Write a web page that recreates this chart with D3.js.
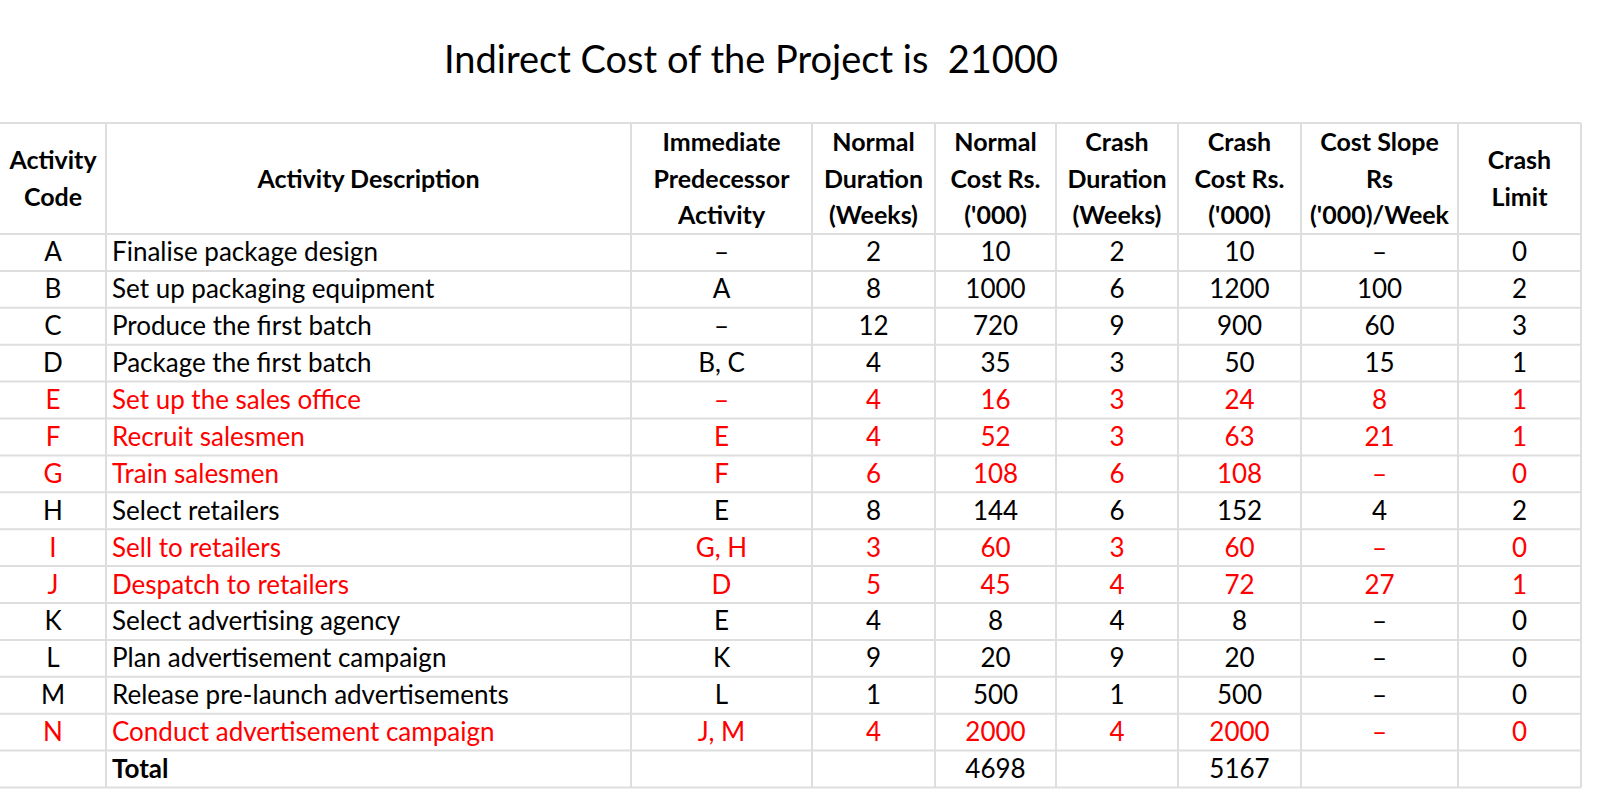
<!DOCTYPE html><html><head><meta charset="utf-8"><script src="https://cdn.jsdelivr.net/npm/d3@7"></script>
<style>body{margin:0;background:#fff}svg{display:block}text{white-space:pre}</style></head><body><svg id="c" width="1597" height="811"></svg><script>
const title="Indirect Cost of the Project is  21000";
const headers=[["Activity","Code"],["Activity Description"],["Immediate","Predecessor","Activity"],["Normal","Duration","(Weeks)"],["Normal","Cost Rs.","('000)"],["Crash","Duration","(Weeks)"],["Crash","Cost Rs.","('000)"],["Cost Slope","Rs","('000)/Week"],["Crash","Limit"]];
const codes=["A","B","C","D","E","F","G","H","I","J","K","L","M","N"];
const descs=["Finalise package design","Set up packaging equipment","Produce the first batch","Package the first batch","Set up the sales office","Recruit salesmen","Train salesmen","Select retailers","Sell to retailers","Despatch to retailers","Select advertising agency","Plan advertisement campaign","Release pre-launch advertisements","Conduct advertisement campaign"];
const preds=["–","A","–","B, C","–","E","F","E","G, H","D","E","K","L","J, M"];
const normalDur=[2,8,12,4,4,4,6,8,3,5,4,9,1,4];
const normalCost=[10,1000,720,35,16,52,108,144,60,45,8,20,500,2000];
const crashDur=[2,6,9,3,3,3,6,6,3,4,4,9,1,4];
const crashCost=[10,1200,900,50,24,63,108,152,60,72,8,20,500,2000];
const slope=["–",100,60,15,8,21,"–",4,"–",27,"–","–","–","–"];
const crashLimit=[0,2,3,1,1,1,0,2,0,1,0,0,0,0];
const critical=["E","F","G","I","J","N"];
const totalRow=["","Total","","",4698,"",5167,"",""];

const svg=d3.select("#c");
const colEdges=[0,106,631,812,935,1056,1178,1301,1458,1581];
const headTop=123, headBot=234, rowH=36.9;
const nRows=codes.length+1;
const y=d3.scaleLinear().domain([0,nRows]).range([headBot,headBot+rowH*nRows]);
const F="Lato, 'Open Sans', sans-serif";
svg.append("text").attr("x",751).attr("y",73).attr("text-anchor","middle").attr("font-family",F).attr("font-size",38).attr("fill","#000").text(title);
const g=svg.append("g");
const gc="#dedede";
[headTop,...d3.range(nRows+1).map(i=>y(i))].forEach(v=>g.append("line").attr("x1",0).attr("x2",1581).attr("y1",v).attr("y2",v).attr("stroke",gc).attr("stroke-width",2));
colEdges.slice(1).forEach(v=>g.append("line").attr("x1",v).attr("x2",v).attr("y1",headTop).attr("y2",y(nRows)).attr("stroke",gc).attr("stroke-width",2));
const mid=i=>(colEdges[i]+colEdges[i+1])/2;
headers.forEach((h,i)=>{
  const cy=(headTop+headBot)/2, lh=36.5;
  h.forEach((t,j)=>svg.append("text").attr("x",mid(i)).attr("y",cy+(j-(h.length-1)/2)*lh+9).attr("text-anchor","middle")
   .attr("font-family",F).attr("font-weight","bold").attr("font-size",25).attr("fill","#000").text(t));
});
const rows=codes.map((c,i)=>[c,descs[i],preds[i],normalDur[i],normalCost[i],crashDur[i],crashCost[i],slope[i],crashLimit[i]]);
rows.push(totalRow);
rows.forEach((r,i)=>{
  const red=critical.includes(r[0]);
  const cy=(y(i)+y(i+1))/2+9;
  r.forEach((v,j)=>{
    const t=svg.append("text").attr("y",cy).attr("font-family",F).attr("font-size",26).attr("fill",red?"#ff0000":"#000").text(v);
    if(j===1){t.attr("x",112);if(i===rows.length-1)t.attr("font-weight","bold");}
    else t.attr("x",mid(j)).attr("text-anchor","middle");
  });
});
</script></body></html>
